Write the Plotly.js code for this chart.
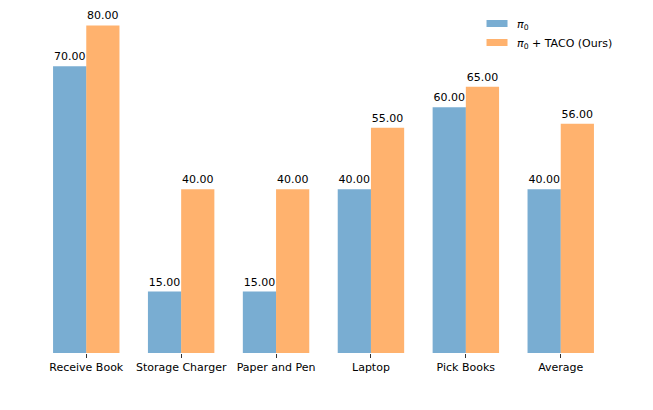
<!DOCTYPE html>
<html>
<head>
<meta charset="utf-8">
<script src="https://cdn.plot.ly/plotly-3.0.1.min.js"></script>
<style>html,body{margin:0;padding:0;background:#fff;}#chart{width:653px;height:410px;}</style>
</head>
<body>
<div id="chart"></div>
<script>
const categories = ["Receive Book", "Storage Charger", "Paper and Pen", "Laptop", "Pick Books", "Average"];
const pi0Values = [70, 15, 15, 40, 60, 40];
const tacoValues = [80, 40, 40, 55, 65, 56];
const seriesNames = ["<i>π</i><sub>0</sub>", "<i>π</i><sub>0</sub> + TACO (Ours)"];

const font = {family: "DejaVu Sans, sans-serif", size: 11, color: "#000"};

const traces = [
  {type: "bar", x: categories, y: pi0Values, name: seriesNames[0],
   marker: {color: "rgba(31,119,180,0.6)"},
   texttemplate: "%{y:.2f}", textposition: "outside", textfont: font, cliponaxis: false,
   hoverinfo: "none"},
  {type: "bar", x: categories, y: tacoValues, name: seriesNames[1],
   marker: {color: "rgba(255,127,14,0.6)"},
   texttemplate: "%{y:.2f}", textposition: "outside", textfont: font, cliponaxis: false,
   hoverinfo: "none"}
];

const layout = {
  width: 653, height: 410,
  margin: {l: 26, r: 32, t: 9, b: 57},
  paper_bgcolor: "#fff", plot_bgcolor: "#fff",
  font: font,
  barmode: "group", bargap: 0.3, bargroupgap: 0,
  xaxis: {showline: false, showgrid: false, zeroline: false, ticks: "outside", ticklen: 3.5,
          tickwidth: 0.8, tickcolor: "#000", tickfont: font, range: [-0.635, 5.635]},
  yaxis: {visible: false, range: [0, 84], showgrid: false, zeroline: false},
  showlegend: true,
  legend: {x: 0.758, xanchor: "left", y: 1, yanchor: "top", font: font, bgcolor: "rgba(0,0,0,0)",
           traceorder: "normal"}
};

Plotly.newPlot("chart", traces, layout, {staticPlot: true, displayModeBar: false}).then(function (gd) {
  gd.querySelectorAll(".legend .legendpoints path").forEach(function (p) {
    p.setAttribute("d", "M10.5,3.5H-10.5V-3.5H10.5Z");
  });
});
</script>
</body>
</html>
